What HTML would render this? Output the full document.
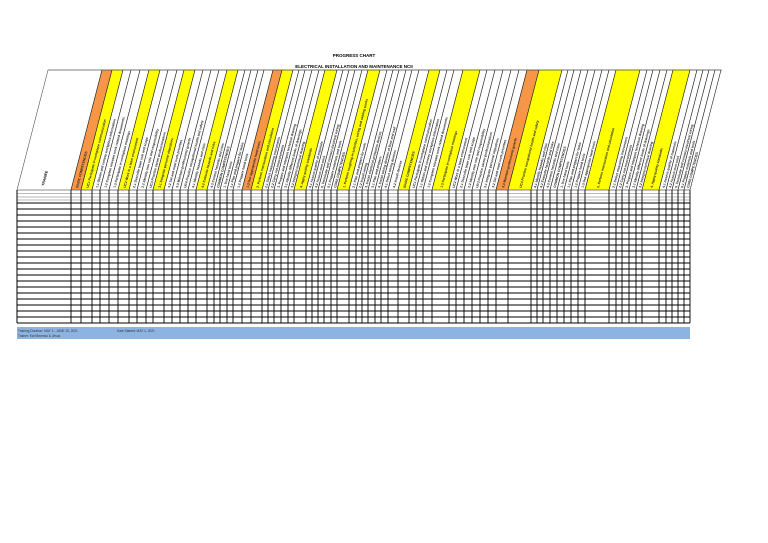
<!DOCTYPE html>
<html><head><meta charset="utf-8"><style>
html,body{margin:0;padding:0;background:#fff;width:768px;height:543px;overflow:hidden}
svg{display:block}
text{font-family:"Liberation Sans",sans-serif}
</style></head><body>
<svg id="s" width="768" height="543" viewBox="0 0 768 543" xmlns="http://www.w3.org/2000/svg">
<text x="354" y="57" font-size="4.5" font-weight="bold" text-anchor="middle">PROGRESS CHART</text>
<text x="354" y="68" font-size="4.5" font-weight="bold" text-anchor="middle">ELECTRICAL INSTALLATION AND MAINTENANCE NCII</text>
<polygon points="17,190 71,190 102,70 48,70" fill="#fff" stroke="#555" stroke-width="0.6"/>
<text transform="translate(44,186) rotate(-75.5)" font-size="3.5" font-weight="bold">TRAINEE</text>
<g id="cols"></g>
<g id="grid"></g>
<rect x="17" y="327" width="673" height="12" fill="#8db3e2"/>
<text x="18" y="332" font-size="3.2" fill="#333">Training Duration: MAY 1 - JUNE 15, 2021</text>
<text x="117" y="332" font-size="3.2" fill="#333">Date Started: MAY 1, 2021</text>
<text x="18" y="337" font-size="3.2" fill="#333">Trainer: Earl Bermiso &amp; Jesus</text>
</svg>
<script>
var b=[71,81,92,100,109,118,129,137,146,153,164,172,180,188,196,207,214,220,227,233,242,251,262,268,274,281,288,294,306,312,318,324,331,337,349,356,362,368,375,381,388,398,409,416,423,432,449,456,464,472,480,488,496,508,531,537,543,550,557,564,571,578,585,609,616,622,629,636,642,659,666,672,678,684,690];
var org=[71,242,496],yel=[81,118,153,196,251,294,337,398,432,508,585,642];
var ns="http://www.w3.org/2000/svg",c=document.getElementById('cols'),g=document.getElementById('grid');
function el(t,a,p){var e=document.createElementNS(ns,t);for(var k in a)e.setAttribute(k,a[k]);p.appendChild(e);return e;}
var labels=["BASIC COMPETENCIES","UC1 Participate in workplace communication","1.1 Obtain and convey workplace information","1.2 Complete relevant work related documents","1.3 Participate in workplace meetings","UC2 Work in a team environment","2.1 Describe team role and scope","2.2 Identify own role and responsibility","UC3 Practice career professionalism","3.1 Integrate personal objectives","3.2 Set and meet work priorities","3.3 Maintain professional growth","UC4 Practice occupational health and safety","4.1 Identify hazards and risks","4.2 Evaluate hazards and risks","4.3 Control hazards and risks","COMMON COMPETENCIES","1. Use hand tools","1.1 Plan and prepare for tasks","1.2 Prepare hand tools","1.3 Use appropriate hand tools","2. Perform mensuration and calculation","2.1 Select measuring instruments","2.2 Carry out measurements","3. Prepare and interpret technical drawing","3.1 Identify different kinds of drawings","3.2 Interpret technical drawing","4. Apply quality standards","4.1 Assess quality of materials","4.2 Assess own work","5. Terminate and connect electrical wiring","5.1 Prepare materials and tools","CORE COMPETENCIES","1. Perform roughing-in activities, wiring and cabling works","2.1 Plan and prepare for work","2.2 Install wiring","3. Install electrical protective devices","3.1 Plan and prepare","4. Install wiring devices of floor and wall","4.1 Select wiring devices","4.2 Install devices"];
for(var i=0;i<b.length-1;i++){
 var x0=b[i],x1=b[i+1],f="#fff";
 if(org.indexOf(x0)>=0)f="#f79646";else if(yel.indexOf(x0)>=0)f="#ffff00";
 el('polygon',{points:x0+",190 "+x1+",190 "+(x1+31)+",70 "+(x0+31)+",70",fill:f,stroke:"#222","stroke-width":"0.6"},c);
 var t=el('text',{transform:"translate("+((x0+x1)/2+2)+",188) rotate(-75.5)","font-size":"3.3","font-weight":"bold",fill:"#222"},c);
 t.textContent=labels[i%labels.length];
}
el('line',{x1:48,y1:70,x2:722,y2:70,stroke:"#555","stroke-width":"0.6"},c);
var ys=[190,193.5,197,200];
for(var y=203;y<=323.5;y+=6)ys.push(y);
ys.forEach(function(y,k){el('line',{x1:17,y1:y,x2:690,y2:y,stroke:k<4?"#777":"#000","stroke-width":k<4?"0.6":"1"},g);});
el('line',{x1:17,y1:190,x2:17,y2:323,stroke:"#000","stroke-width":"1"},g);
b.forEach(function(x){el('line',{x1:x,y1:190,x2:x,y2:323,stroke:"#000","stroke-width":"0.9"},g);});
</script>
</body></html>
